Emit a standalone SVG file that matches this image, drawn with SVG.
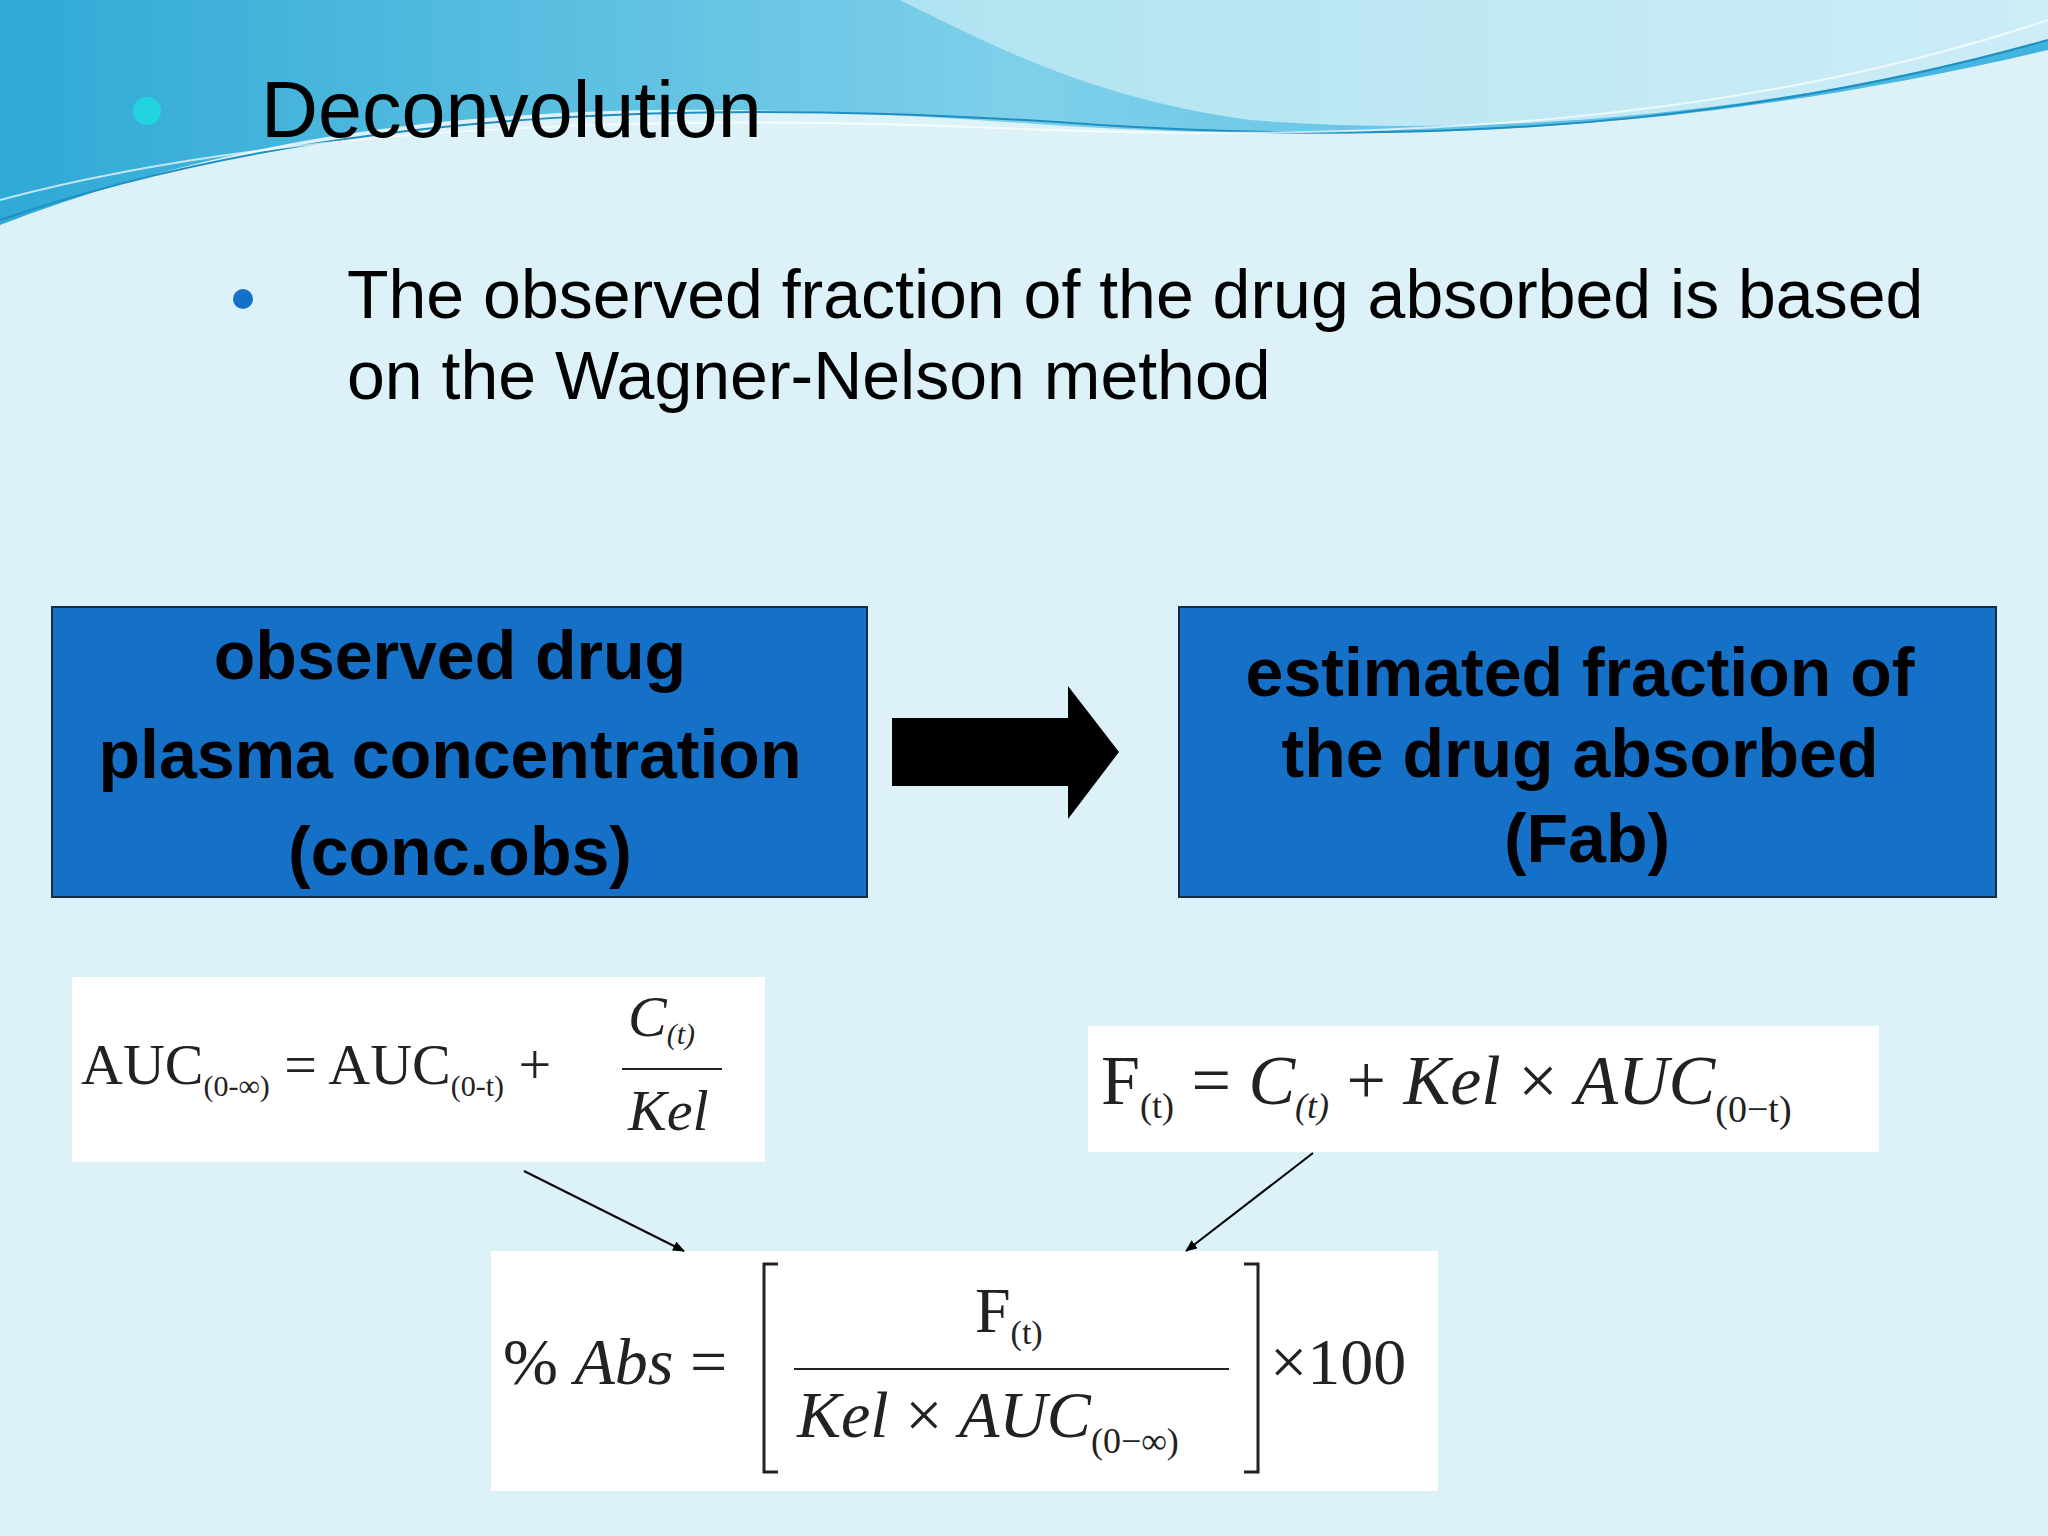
<svg xmlns="http://www.w3.org/2000/svg" width="2048" height="1536" viewBox="0 0 2048 1536">
<defs>
<linearGradient id="wg" x1="0" y1="0" x2="1" y2="0">
<stop offset="0" stop-color="#2fa9d6"/><stop offset="0.5" stop-color="#7fd0ea"/><stop offset="1" stop-color="#3fb3df"/>
</linearGradient>
<linearGradient id="wg2" x1="0" y1="0" x2="1" y2="0">
<stop offset="0" stop-color="#b8e6f2"/><stop offset="1" stop-color="#e6f7fb"/>
</linearGradient>
<marker id="ah" markerWidth="12" markerHeight="10" refX="11" refY="5" orient="auto" markerUnits="userSpaceOnUse">
<path d="M0,0 L12,5 L0,10 Z" fill="#000"/>
</marker>
<style>
.box{fill:#1570c8;stroke:#1a2a40;stroke-width:2}
.bt{font-family:"Liberation Sans",Arial,sans-serif;font-weight:bold;font-size:68px;fill:#000;text-anchor:middle}
.st{font-family:"Liberation Sans",Arial,sans-serif;font-size:68px;fill:#000}
.fb{fill:#fff}
.m{font-family:"Liberation Serif","Times New Roman",serif;fill:#222}
.i{font-style:italic}
.conn{stroke:#000;stroke-width:2;fill:none}
</style>
</defs>
<rect width="2048" height="1536" fill="#dcf2f8"/>
<g id="waves">
<path d="M0,0 H2048 V50 C1750,120 1450,150 1050,125 C700,100 350,90 0,225 Z" fill="url(#wg)"/>
<path d="M900,0 H2048 V40 C1800,110 1500,140 1250,120 C1100,100 1000,50 900,0 Z" fill="url(#wg2)" opacity="0.85"/>
<path d="M0,220 C350,100 750,100 1100,125 C1500,150 1800,110 2048,40" stroke="#1e8fc0" stroke-width="2" fill="none"/>
<path d="M0,200 C300,120 700,115 1000,128 C1400,145 1750,120 2048,20" stroke="#ffffff" stroke-width="2" fill="none" opacity="0.7"/>
</g>
<g id="title">
<circle cx="147" cy="111" r="14" fill="#22d4e0"/>
<text x="261" y="137" font-family="Liberation Sans,Arial,sans-serif" font-size="79" fill="#000">Deconvolution</text>
</g>
<g id="bullet">
<circle cx="243" cy="299" r="10" fill="#1570c8"/>
<text class="st" x="347" y="318">The observed fraction of the drug absorbed is based</text>
<text class="st" x="347" y="399">on the Wagner-Nelson method</text>
</g>
<g id="box1">
<rect class="box" x="52" y="607" width="815" height="290"/>
<text class="bt" x="450" y="679">observed drug</text>
<text class="bt" x="450" y="778">plasma concentration</text>
<text class="bt" x="460" y="875">(conc.obs)</text>
</g>
<g id="box2">
<rect class="box" x="1179" y="607" width="817" height="290"/>
<text class="bt" x="1580" y="696">estimated fraction of</text>
<text class="bt" x="1580" y="777">the drug absorbed</text>
<text class="bt" x="1587" y="862">(Fab)</text>
</g>
<g id="formula1">
<rect class="fb" x="72" y="977" width="693" height="185"/>
<text class="m" x="81" y="1084" font-size="58">AUC<tspan font-size="30" dy="12">(0-∞)</tspan><tspan font-size="58" dy="-12"> = AUC</tspan><tspan font-size="30" dy="12">(0-t)</tspan><tspan font-size="58" dy="-12"> +</tspan></text>
<text class="m i" x="628" y="1036" font-size="58">C<tspan font-size="30" dy="8">(t)</tspan></text>
<line x1="622" y1="1069" x2="722" y2="1069" stroke="#222" stroke-width="2"/>
<text class="m i" x="628" y="1130" font-size="58">Kel</text>
</g>
<g id="formula2">
<rect class="fb" x="1088" y="1026" width="791" height="126"/>
<text class="m" x="1101" y="1104" font-size="70">F<tspan font-size="36" dy="14">(t)</tspan><tspan font-size="70" dy="-14"> = </tspan><tspan class="i" font-size="70">C</tspan><tspan class="i" font-size="36" dy="14">(t)</tspan><tspan font-size="70" dy="-14"> + </tspan><tspan class="i" font-size="70">Kel</tspan><tspan font-size="70"> × </tspan><tspan class="i" font-size="70">AUC</tspan><tspan font-size="38" dy="18">(0−t)</tspan></text>
</g>
<g id="formula3">
<rect class="fb" x="491" y="1251" width="947" height="240"/>
<text class="m" x="503" y="1384" font-size="66">% <tspan class="i">Abs</tspan> =</text>
<path d="M778,1264 H764 V1472 H778" stroke="#222" stroke-width="3" fill="none"/>
<path d="M1244,1264 H1258 V1472 H1244" stroke="#222" stroke-width="3" fill="none"/>
<text class="m" x="975" y="1332" font-size="64">F<tspan font-size="34" dy="12">(t)</tspan></text>
<line x1="794" y1="1369" x2="1229" y2="1369" stroke="#222" stroke-width="2"/>
<text class="m" x="797" y="1437" font-size="66"><tspan class="i">Kel</tspan> × <tspan class="i">AUC</tspan><tspan font-size="36" dy="16">(0−∞)</tspan></text>
<text class="m" x="1270" y="1384" font-size="66">×100</text>
</g>
<g id="connectors">
<path d="M892,718 H1068 V686 L1119,752 L1068,819 V786 H892 Z" fill="#000"/>
<line class="conn" x1="524" y1="1171" x2="684" y2="1251" marker-end="url(#ah)"/>
<line class="conn" x1="1313" y1="1153" x2="1186" y2="1251" marker-end="url(#ah)"/>
</g>
</svg>
